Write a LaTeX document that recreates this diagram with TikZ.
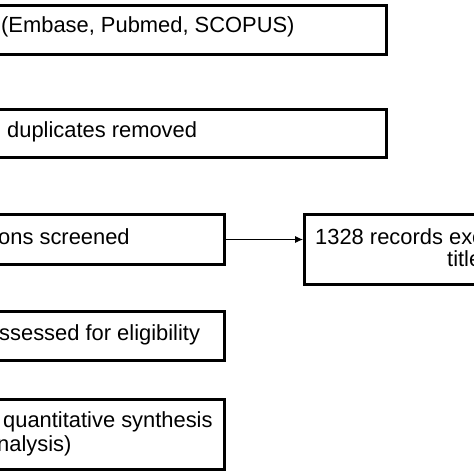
\documentclass[tikz,border=0pt]{standalone}
\usepackage{fontspec}
\setmainfont{Liberation Sans}
\usetikzlibrary{arrows.meta,positioning}

\begin{document}
\begin{tikzpicture}[x=1pt,y=-1pt,
  box/.style={draw=black,fill=white,line width=3pt,inner sep=0pt},
  txt/.style={anchor=west,inner sep=0pt,align=left,
    font=\fontsize{21.9}{25}\selectfont},
  flow/.style={-{Latex[length=8pt,width=7pt]},line width=.9pt}]
\useasboundingbox (0,0) rectangle (474,474);
\clip (0,0) rectangle (474,474);

% boxes of the left column run past the left edge
\node[box,minimum width=600pt,minimum height=49pt,anchor=north east] (ident) at (388,4) {};
\node[box,minimum width=600pt,minimum height=48pt,anchor=north east] (dupl) at (388,108) {};
\node[box,minimum width=440pt,minimum height=50pt,anchor=north east] (screen) at (226,213) {};
\node[box,minimum width=300pt,minimum height=70pt,anchor=north west] (excl) at (303,213) {};
\node[box,minimum width=440pt,minimum height=49pt,anchor=north east] (elig) at (226,310) {};
\node[box,minimum width=440pt,minimum height=70pt,anchor=north east] (incl) at (226,398) {};

\node[txt] (identtxt) at (1,27) {(Embase, Pubmed, SCOPUS)};
\node[txt] (dupltxt) at (7,132) {duplicates removed};
\node[txt] (screentxt) at (-2,237) {ons screened};
\node[txt] (excltxt) at (315,237) {1328 records exc};
\node[txt] (excltxtb) at (447,259) {title};
\node[txt] (eligtxt) at (-1,335) {ssessed for eligibility};
\node[txt] (incltxt) at (3,422) {quantitative synthesis};
\node[txt] (incltxtb) at (-3,446) {nalysis)};

\draw[flow] (screen.east) -- (screen.east -| excl.west);
\end{tikzpicture}
\end{document}
